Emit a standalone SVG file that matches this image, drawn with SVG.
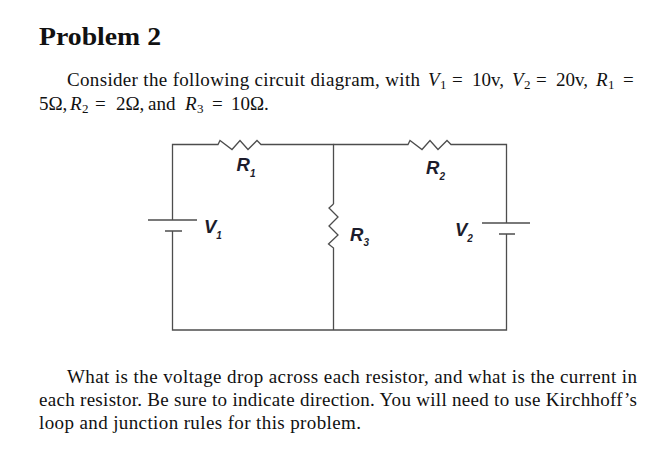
<svg xmlns="http://www.w3.org/2000/svg" width="669" height="471" viewBox="0 0 669 471">
<style>
.t{font-family:"Liberation Serif","DejaVu Serif",serif;font-size:19px;fill:#111}
.i{font-style:italic}
.s{font-size:13px}
.h{font-family:"Liberation Serif","DejaVu Serif",serif;font-size:25px;font-weight:bold;fill:#111}
.l{font-family:"Liberation Sans","DejaVu Sans",sans-serif;font-size:18.5px;font-style:italic;font-weight:bold;fill:#1c1c2c}
.ls{font-size:10px}
.w{fill:none;stroke:#4d4d4d;stroke-width:1.3}
</style>
<rect width="669" height="471" fill="#fff"/>
<text class="h" x="39" y="45" textLength="122" lengthAdjust="spacingAndGlyphs">Problem 2</text>
<text class="t" x="67" y="86" textLength="353" lengthAdjust="spacing">Consider the following circuit diagram, with</text>
<text class="t" y="86"><tspan class="i" x="428">V</tspan><tspan class="s" x="440" dy="3">1</tspan><tspan x="452" dy="-3">=</tspan><tspan x="472">10v,</tspan><tspan class="i" x="512">V</tspan><tspan class="s" x="524" dy="3">2</tspan><tspan x="536" dy="-3">=</tspan><tspan x="556">20v,</tspan><tspan class="i" x="596">R</tspan><tspan class="s" x="608" dy="3">1</tspan><tspan x="623" dy="-3">=</tspan></text>
<text class="t" y="110"><tspan x="39">5Ω,</tspan><tspan class="i" x="70">R</tspan><tspan class="s" x="82" dy="3">2</tspan><tspan x="95" dy="-3">=</tspan><tspan x="116">2Ω,</tspan><tspan x="148">and</tspan><tspan class="i" x="185">R</tspan><tspan class="s" x="197" dy="3">3</tspan><tspan x="212" dy="-3">=</tspan><tspan x="231">10Ω.</tspan></text>
<g id="connectors">
<path class="w" d="M172.500 220V144.500H218L220 140.500 232 149.500 240 140.500 248 149.500 257 140.500 261 144.500H333.500V204"/>
<path class="w" d="M333.500 144.500H408L410 140.500 422 149.500 430 140.500 438 149.500 447 140.500 451 144.500H506.500V223"/>
<path class="w" d="M172.500 231V330H506.500V234"/>
<path class="w" d="M333.500 204L329 208 338 217 329 226 338 235 328.500 244 333.500 248V330"/>
</g>
<g id="R1"><text class="l" x="236.500" y="171">R<tspan class="ls" dy="6">1</tspan></text></g>
<g id="R2"><text class="l" x="426" y="174">R<tspan class="ls" dy="6">2</tspan></text></g>
<g id="R3"><text class="l" x="350" y="241">R<tspan class="ls" dy="5">3</tspan></text></g>
<g id="V1">
<path class="w" d="M148 220H197M165 231H182"/>
<text class="l" x="204" y="233">V<tspan class="ls" dy="6">1</tspan></text>
</g>
<g id="V2">
<path class="w" d="M482 223H530M499 234H515"/>
<text class="l" x="455" y="236">V<tspan class="ls" dy="6">2</tspan></text>
</g>
<text class="t" x="67" y="383" textLength="570" lengthAdjust="spacing">What is the voltage drop across each resistor, and what is the current in</text>
<text class="t" x="39" y="406" textLength="598" lengthAdjust="spacing">each resistor. Be sure to indicate direction. You will need to use Kirchhoff’s</text>
<text class="t" x="39" y="429" textLength="322" lengthAdjust="spacing">loop and junction rules for this problem.</text>
</svg>
